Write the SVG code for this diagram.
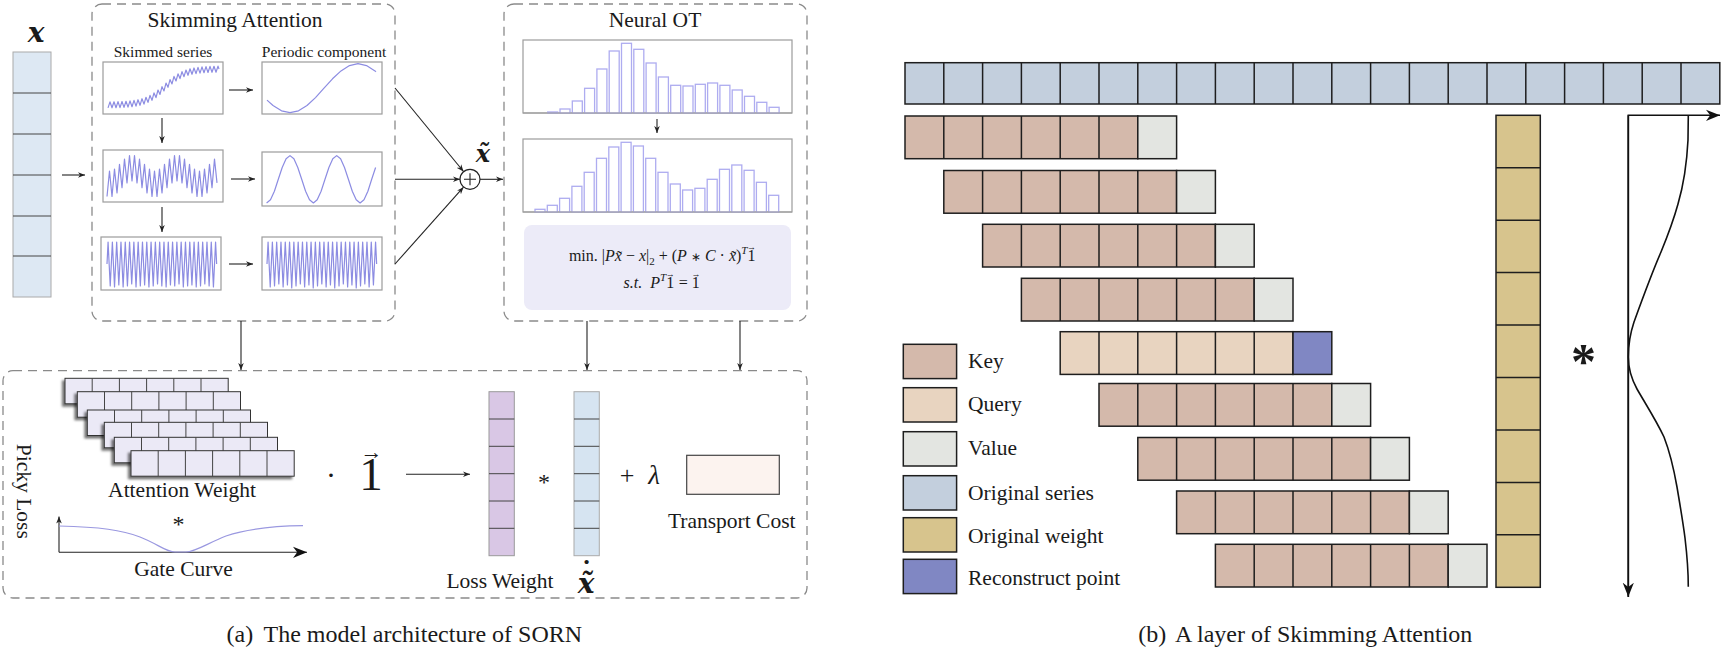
<svg xmlns="http://www.w3.org/2000/svg" width="1724" height="649" viewBox="0 0 1724 649">
<style>
text{font-family:"Liberation Serif","Times New Roman",serif;fill:#1a1a1a}
.t21{font-size:21.5px}
.t15{font-size:15.5px}
.cap{font-size:24px}
.mx{font-family:"DejaVu Serif",serif;font-style:italic;font-weight:bold}
.dash{fill:none;stroke:#8a8a8a;stroke-width:1.3;stroke-dasharray:9 6}
.panel{fill:#fff;stroke:#9c9c9c;stroke-width:1.2}
.wave{fill:none;stroke:#8c8ce2;stroke-width:1.2;stroke-linejoin:round}
.bar{fill:#fff;stroke:#aeacf0;stroke-width:1.3}
.ln{fill:none;stroke:#222;stroke-width:1.1}
.sep{fill:none;stroke:#444;stroke-width:1}
.cellb{stroke:#1e1e1e;stroke-width:1.5}
.sepb{fill:none;stroke:#1e1e1e;stroke-width:1.5}
.key{fill:#d4b9ab}.qry{fill:#e8d4c0}.val{fill:#e3e5e1}.ori{fill:#c3cfdd}.wgt{fill:#d7c48d}.rec{fill:#8087c3}
.att{fill:#ebe9f6;stroke:#333;stroke-width:1}
</style>
<defs>
<marker id="ah" viewBox="0 0 10 10" refX="10" refY="5" markerWidth="7" markerHeight="7" orient="auto" markerUnits="userSpaceOnUse"><path d="M0,1 L10,5 L0,9 L3,5 z" fill="#222"/></marker>
<marker id="ahb" viewBox="0 0 10 10" refX="10" refY="5" markerWidth="14" markerHeight="14" orient="auto" markerUnits="userSpaceOnUse"><path d="M0,1 L10,5 L0,9 L3,5 z" fill="#111"/></marker>
<filter id="sh" x="-10%" y="-20%" width="120%" height="150%"><feDropShadow dx="-2.5" dy="2.5" stdDeviation="1.2" flood-color="#000" flood-opacity="0.55"/></filter>
</defs>

<!-- ================= (a) ================= -->
<g id="input-x">
<text class="mx" x="36" y="41.5" font-size="28" text-anchor="middle">x</text>
<rect x="13" y="52" width="38" height="245" fill="#dde8f3" stroke="#aaa" stroke-width="1"/>
<path class="sep" stroke="#888" d="M13,93H51M13,134H51M13,175H51M13,216H51M13,256H51"/>
</g>

<g id="skimming-attention">
<rect class="dash" x="92" y="4" width="303" height="317" rx="10"/>
<text class="t21" x="235" y="26.7" text-anchor="middle">Skimming Attention</text>
<text class="t15" x="163" y="57" text-anchor="middle">Skimmed series</text>
<text class="t15" x="324" y="57" text-anchor="middle">Periodic component</text>
<rect class="panel" x="103" y="62" width="120" height="52"/>
<rect class="panel" x="262" y="62" width="120" height="52"/>
<rect class="panel" x="103" y="150" width="120" height="52"/>
<rect class="panel" x="262" y="152" width="120" height="54"/>
<rect class="panel" x="101" y="237" width="120" height="53"/>
<rect class="panel" x="262" y="237" width="120" height="53"/>
<polyline class="wave" points="108,107.9 110,101.85 112,107.8 114,101.75 116,107.7 118,101.65 120,107.6 122,101.5 124,107.4 126,101.25 128,107.1 130,100.9 132,106.7 134,100.4 136,106.1 138,99.7 140,105.3 142,98.7 144,104.1 146,97.25 148,102.4 150,95.35 152,100.3 154,92.95 156,97.6 158,90 160,94.4 162,86.65 164,90.9 166,83.1 168,87.3 170,79.6 172,83.9 174,76.45 176,81 178,73.8 180,78.6 182,71.65 184,76.7 186,70 188,75.3 190,68.8 192,74.3 194,67.95 196,73.6 198,67.35 200,73.1 202,66.9 204,72.7 206,66.6 208,72.5 210,66.4 212,72.3 214,66.25 216,72.2 218,66.15 219,69"/>
<polyline class="wave" points="267,100.1 273,105.5 281.5,110.8 290,112.7 298.5,110.8 307,105.5 315.5,97.6 324,88.2 332.5,78.8 341,70.9 349.5,65.6 358,63.7 366.5,65.6 375,70.9 376,71.7"/>
<polyline class="wave" points="107,196.5 109.5,171 112,196.5 114.5,169.1 117,193 119.5,164.4 122,187.6 124.5,159 127,182.9 129.5,155.5 132,181 134.5,155.5 137,182.9 139.5,159 142,187.6 144.5,164.4 147,193 149.5,169.1 152,196.5 154.5,171 157,196.5 159.5,169.1 162,193 164.5,164.4 167,187.6 169.5,159 172,182.9 174.5,155.5 177,181 179.5,155.5 182,182.9 184.5,159 187,187.6 189.5,164.4 192,193 194.5,169.1 197,196.5 199.5,171 202,196.5 204.5,169.1 207,193 209.5,164.4 212,187.6 214.5,159 217,182.9"/>
<polyline class="wave" points="266.6,203 270.5,199.8 274.4,191.2 278.3,179.3 282.2,167.5 286.1,158.8 290,155.6 293.9,158.8 297.8,167.5 301.7,179.3 305.6,191.2 309.5,199.8 313.4,203 317.2,199.8 321.1,191.2 325,179.3 328.9,167.5 332.8,158.8 336.7,155.6 340.6,158.8 344.5,167.5 348.4,179.3 352.3,191.2 356.2,199.8 360.1,203 364,199.8 367.9,191.2 371.7,179.3 375.6,167.5"/>
<path class="wave" d="M107,264 l1.075,-22 l2.15,44 l2.15,-44 l2.15,45 l2.15,-45 l2.15,43 l2.15,-43 l2.15,45 l2.15,-45 l2.15,44 l2.15,-44 l2.15,42 l2.15,-42 l2.15,45 l2.15,-45 l2.15,44 l2.15,-44 l2.15,43 l2.15,-43 l2.15,45 l2.15,-45 l2.15,44 l2.15,-44 l2.15,42 l2.15,-42 l2.15,44 l2.15,-44 l2.15,45 l2.15,-45 l2.15,43 l2.15,-43 l2.15,44 l2.15,-44 l2.15,42 l2.15,-42 l2.15,45 l2.15,-45 l2.15,44 l2.15,-44 l2.15,43 l2.15,-43 l2.15,45 l2.15,-45 l2.15,44 l2.15,-44 l2.15,42 l2.15,-42 l2.15,44 l2.15,-44 l2.15,45 l2.15,-45 l1.075,22"/>
<path class="wave" d="M267,264 l1.075,-22 l2.15,45 l2.15,-45 l2.15,44 l2.15,-44 l2.15,42 l2.15,-42 l2.15,45 l2.15,-45 l2.15,43 l2.15,-43 l2.15,46 l2.15,-46 l2.15,44 l2.15,-44 l2.15,42 l2.15,-42 l2.15,45 l2.15,-45 l2.15,43 l2.15,-43 l2.15,46 l2.15,-46 l2.15,44 l2.15,-44 l2.15,42 l2.15,-42 l2.15,45 l2.15,-45 l2.15,43 l2.15,-43 l2.15,46 l2.15,-46 l2.15,44 l2.15,-44 l2.15,42 l2.15,-42 l2.15,45 l2.15,-45 l2.15,43 l2.15,-43 l2.15,46 l2.15,-46 l2.15,44 l2.15,-44 l2.15,42 l2.15,-42 l2.15,45 l2.15,-45 l2.15,43 l2.15,-43 l1.075,22"/>
</g>

<g id="sum-node">
<circle cx="470" cy="179.3" r="10" fill="#fff" stroke="#222" stroke-width="1.2"/>
<path class="ln" d="M464,179.3H476M470,173.3V185.3"/>
<text class="mx" x="483" y="162" font-size="24" text-anchor="middle">x̃</text>
</g>

<g id="neural-ot">
<rect class="dash" x="504" y="4" width="303" height="317" rx="10"/>
<text class="t21" x="655" y="26.7" text-anchor="middle">Neural OT</text>
<rect class="panel" x="523" y="40" width="269" height="73"/>
<g>
<rect class="bar" x="547.7" y="112" width="10" height="1"/>
<rect class="bar" x="560" y="109" width="10" height="4"/>
<rect class="bar" x="572.3" y="101" width="10" height="12"/>
<rect class="bar" x="584.6" y="88.3" width="10" height="24.7"/>
<rect class="bar" x="596.9" y="69" width="10" height="44"/>
<rect class="bar" x="609.2" y="51" width="10" height="62"/>
<rect class="bar" x="621.5" y="43.3" width="10" height="69.7"/>
<rect class="bar" x="633.8" y="49.3" width="10" height="63.7"/>
<rect class="bar" x="646.1" y="63" width="10" height="50"/>
<rect class="bar" x="658.4" y="77" width="10" height="36"/>
<rect class="bar" x="670.7" y="85.3" width="10" height="27.7"/>
<rect class="bar" x="683" y="86" width="10" height="27"/>
<rect class="bar" x="695.3" y="84.3" width="10" height="28.7"/>
<rect class="bar" x="707.6" y="83" width="10" height="30"/>
<rect class="bar" x="719.9" y="85.3" width="10" height="27.7"/>
<rect class="bar" x="732.2" y="90" width="10" height="23"/>
<rect class="bar" x="744.5" y="96.3" width="10" height="16.7"/>
<rect class="bar" x="756.8" y="102.3" width="10" height="10.7"/>
<rect class="bar" x="769.1" y="107.3" width="10" height="5.7"/>
</g>
<path d="M523,113H792" stroke="#9c9c9c" stroke-width="1.2"/>
<rect class="panel" x="523" y="139" width="269" height="73"/>
<g>
<rect class="bar" x="535" y="209.3" width="10" height="2.7"/>
<rect class="bar" x="547.3" y="205.3" width="10" height="6.7"/>
<rect class="bar" x="559.6" y="198.3" width="10" height="13.7"/>
<rect class="bar" x="571.9" y="186.3" width="10" height="25.7"/>
<rect class="bar" x="584.2" y="172.3" width="10" height="39.7"/>
<rect class="bar" x="596.5" y="158.3" width="10" height="53.7"/>
<rect class="bar" x="608.8" y="147" width="10" height="65"/>
<rect class="bar" x="621.1" y="142.3" width="10" height="69.7"/>
<rect class="bar" x="633.4" y="146" width="10" height="66"/>
<rect class="bar" x="645.7" y="158.3" width="10" height="53.7"/>
<rect class="bar" x="658" y="172.3" width="10" height="39.7"/>
<rect class="bar" x="670.3" y="184" width="10" height="28"/>
<rect class="bar" x="682.6" y="190" width="10" height="22"/>
<rect class="bar" x="694.9" y="188.3" width="10" height="23.7"/>
<rect class="bar" x="707.2" y="179.3" width="10" height="32.7"/>
<rect class="bar" x="719.5" y="169.3" width="10" height="42.7"/>
<rect class="bar" x="731.8" y="165" width="10" height="47"/>
<rect class="bar" x="744.1" y="170.3" width="10" height="41.7"/>
<rect class="bar" x="756.4" y="182.3" width="10" height="29.7"/>
<rect class="bar" x="768.7" y="195.3" width="10" height="16.7"/>
</g>
<path d="M523,212H792" stroke="#9c9c9c" stroke-width="1.2"/>
<path class="ln" d="M657,119V133" marker-end="url(#ah)"/>
<rect x="524" y="225" width="267" height="85" rx="8" fill="#ecebf8"/>
<text x="662.5" y="261" font-size="16" text-anchor="middle" xml:space="preserve">min. |<tspan font-style="italic">P</tspan><tspan font-style="italic">x̃</tspan> − <tspan font-style="italic">x</tspan>|<tspan font-size="11" dy="4">2</tspan><tspan dy="-4"> + (</tspan><tspan font-style="italic">P</tspan> <tspan font-size="12">∗</tspan> <tspan font-style="italic">C</tspan> · <tspan font-style="italic">x̃</tspan>)<tspan font-size="11" font-style="italic" dy="-7">T</tspan><tspan dy="7">1</tspan><tspan font-size="9" dx="-8.4" dy="-11">→</tspan></text>
<text x="662" y="288.3" font-size="16" text-anchor="middle" xml:space="preserve"><tspan font-style="italic">s.t.</tspan>  <tspan font-style="italic">P</tspan><tspan font-size="11" font-style="italic" dy="-7">T</tspan><tspan dy="7">1</tspan><tspan font-size="9" dx="-8.4" dy="-11">→</tspan><tspan dy="11"> = 1</tspan><tspan font-size="9" dx="-8.4" dy="-11">→</tspan></text>
</g>

<g id="picky-loss">
<rect class="dash" x="3" y="370.7" width="804" height="227.3" rx="10"/>
<text class="t21" transform="translate(17,491.3) rotate(90)" text-anchor="middle">Picky Loss</text>
</g>

<g id="attention-weight">
<g filter="url(#sh)">
<rect class="att" x="65" y="378.3" width="163.2" height="25.5"/>
<path class="sep" stroke="#333" d="M92.2,378.3v25.5M119.4,378.3v25.5M146.6,378.3v25.5M173.8,378.3v25.5M201,378.3v25.5"/>
</g>
<g filter="url(#sh)">
<rect class="att" x="77.3" y="391.7" width="163.2" height="25.5"/>
<path class="sep" stroke="#333" d="M104.5,391.7v25.5M131.7,391.7v25.5M158.9,391.7v25.5M186.1,391.7v25.5M213.3,391.7v25.5"/>
</g>
<g filter="url(#sh)">
<rect class="att" x="87.3" y="410" width="163.2" height="25.5"/>
<path class="sep" stroke="#333" d="M114.5,410v25.5M141.7,410v25.5M168.9,410v25.5M196.1,410v25.5M223.3,410v25.5"/>
</g>
<g filter="url(#sh)">
<rect class="att" x="104.3" y="422.3" width="163.2" height="25.5"/>
<path class="sep" stroke="#333" d="M131.5,422.3v25.5M158.7,422.3v25.5M185.9,422.3v25.5M213.1,422.3v25.5M240.3,422.3v25.5"/>
</g>
<g filter="url(#sh)">
<rect class="att" x="114.3" y="437.3" width="163.2" height="25.5"/>
<path class="sep" stroke="#333" d="M141.5,437.3v25.5M168.7,437.3v25.5M195.9,437.3v25.5M223.1,437.3v25.5M250.3,437.3v25.5"/>
</g>
<g filter="url(#sh)">
<rect class="att" x="131" y="450.7" width="163.2" height="25.5"/>
<path class="sep" stroke="#333" d="M158.2,450.7v25.5M185.4,450.7v25.5M212.6,450.7v25.5M239.8,450.7v25.5M267,450.7v25.5"/>
</g>
<text class="t21" x="182" y="497" text-anchor="middle">Attention Weight</text>
</g>

<g id="gate-curve">
<text x="178.5" y="532" font-size="24" text-anchor="middle">*</text>
<path class="ln" d="M59,552.3V516.5" marker-end="url(#ah)"/>
<path class="ln" d="M59,552.3H307" marker-end="url(#ahb)"/>
<path fill="none" stroke="#9a98e0" stroke-width="1.2" d="M59,526 C100,527 122,530 140,537 C158,544 166,552 175,552 L186,552 C195,552 208,543 226,536 C250,528 280,526 303,525.7"/>
<text class="t21" x="183.5" y="576" text-anchor="middle">Gate Curve</text>
</g>

<g id="ones-vector">
<text x="331" y="485" font-size="30" text-anchor="middle">·</text>
<text x="371" y="490" font-size="47" text-anchor="middle">1</text>
<text x="371.5" y="459" font-size="22" text-anchor="middle">→</text>
</g>

<g id="loss-weight">
<rect x="489" y="391.7" width="25.3" height="164" fill="#d9c7e5" stroke="#999" stroke-width="1"/>
<path class="sep" stroke="#555" d="M489,419H514.3M489,446.3H514.3M489,473.7H514.3M489,501H514.3M489,528.3H514.3"/>
<text class="t21" x="500" y="588" text-anchor="middle">Loss Weight</text>
<text x="544" y="490" font-size="24" text-anchor="middle">*</text>
</g>

<g id="x-tilde-dot">
<rect x="574" y="391.7" width="25.3" height="164" fill="#d6e4f1" stroke="#aaa" stroke-width="1"/>
<path class="sep" stroke="#666" d="M574,419H599.3M574,446.3H599.3M574,473.7H599.3M574,501H599.3M574,528.3H599.3"/>
<text class="mx" x="586" y="593" font-size="28" text-anchor="middle">x̃</text>
<text x="586.5" y="570" font-size="26" font-weight="bold" text-anchor="middle">·</text>
</g>

<g id="transport-cost">
<text x="627" y="483.5" font-size="26" text-anchor="middle">+</text>
<text x="654" y="483.5" font-size="27" font-style="italic" text-anchor="middle">λ</text>
<rect x="686.7" y="455.3" width="92.6" height="39" fill="#fcf3ef" stroke="#444" stroke-width="1.2"/>
<text class="t21" x="731.7" y="528.3" text-anchor="middle">Transport Cost</text>
</g>

<g id="connectors-a">
<path class="ln" d="M62,175H85" marker-end="url(#ah)"/>
<path class="ln" d="M229,90H253" marker-end="url(#ah)"/>
<path class="ln" d="M231,179H255" marker-end="url(#ah)"/>
<path class="ln" d="M229,264H253" marker-end="url(#ah)"/>
<path class="ln" d="M162,118V143" marker-end="url(#ah)"/>
<path class="ln" d="M162,207V232" marker-end="url(#ah)"/>
<path class="ln" d="M395,88L463.5,171.5" marker-end="url(#ah)"/>
<path class="ln" d="M395,179.3H460" marker-end="url(#ah)"/>
<path class="ln" d="M395,264L463.5,187.2" marker-end="url(#ah)"/>
<path class="ln" d="M480,179.3H503" marker-end="url(#ah)"/>
<path class="ln" d="M241,321V370" marker-end="url(#ah)"/>
<path class="ln" d="M587,321V370" marker-end="url(#ah)"/>
<path class="ln" d="M740,321V370" marker-end="url(#ah)"/>
<path class="ln" d="M406,474.3H470" marker-end="url(#ah)"/>
</g>

<text class="cap" x="226.5" y="641.7">(a)</text>
<text class="cap" x="263.5" y="641.7">The model architecture of SORN</text>

<!-- ================= (b) ================= -->
<g id="original-series">
<rect class="ori cellb" x="905" y="62.7" width="814.8" height="41.3"/>
<path class="sepb" d="M943.8,62.7v41.3M982.6,62.7v41.3M1021.4,62.7v41.3M1060.2,62.7v41.3M1099,62.7v41.3M1137.8,62.7v41.3M1176.6,62.7v41.3M1215.4,62.7v41.3M1254.2,62.7v41.3M1293,62.7v41.3M1331.8,62.7v41.3M1370.6,62.7v41.3M1409.4,62.7v41.3M1448.2,62.7v41.3M1487,62.7v41.3M1525.8,62.7v41.3M1564.6,62.7v41.3M1603.4,62.7v41.3M1642.2,62.7v41.3M1681,62.7v41.3"/>
</g>

<g id="row-1">
<rect class="key cellb" x="905" y="116" width="232.8" height="42.7"/>
<rect class="val cellb" x="1137.8" y="116" width="38.8" height="42.7"/>
<path class="sepb" d="M943.8,116v42.7M982.6,116v42.7M1021.4,116v42.7M1060.2,116v42.7M1099,116v42.7"/>
</g>
<g id="row-2">
<rect class="key cellb" x="943.8" y="170.5" width="232.8" height="42.7"/>
<rect class="val cellb" x="1176.6" y="170.5" width="38.8" height="42.7"/>
<path class="sepb" d="M982.6,170.5v42.7M1021.4,170.5v42.7M1060.2,170.5v42.7M1099,170.5v42.7M1137.8,170.5v42.7"/>
</g>
<g id="row-3">
<rect class="key cellb" x="982.6" y="224.3" width="232.8" height="42.7"/>
<rect class="val cellb" x="1215.4" y="224.3" width="38.8" height="42.7"/>
<path class="sepb" d="M1021.4,224.3v42.7M1060.2,224.3v42.7M1099,224.3v42.7M1137.8,224.3v42.7M1176.6,224.3v42.7"/>
</g>
<g id="row-4">
<rect class="key cellb" x="1021.4" y="278.3" width="232.8" height="42.7"/>
<rect class="val cellb" x="1254.2" y="278.3" width="38.8" height="42.7"/>
<path class="sepb" d="M1060.2,278.3v42.7M1099,278.3v42.7M1137.8,278.3v42.7M1176.6,278.3v42.7M1215.4,278.3v42.7"/>
</g>
<g id="row-5-query">
<rect class="qry cellb" x="1060.2" y="331.7" width="232.8" height="42.7"/>
<rect class="rec cellb" x="1293" y="331.7" width="38.8" height="42.7"/>
<path class="sepb" d="M1099,331.7v42.7M1137.8,331.7v42.7M1176.6,331.7v42.7M1215.4,331.7v42.7M1254.2,331.7v42.7"/>
</g>
<g id="row-6">
<rect class="key cellb" x="1099" y="383.5" width="232.8" height="42.7"/>
<rect class="val cellb" x="1331.8" y="383.5" width="38.8" height="42.7"/>
<path class="sepb" d="M1137.8,383.5v42.7M1176.6,383.5v42.7M1215.4,383.5v42.7M1254.2,383.5v42.7M1293,383.5v42.7"/>
</g>
<g id="row-7">
<rect class="key cellb" x="1137.8" y="437.5" width="232.8" height="42.7"/>
<rect class="val cellb" x="1370.6" y="437.5" width="38.8" height="42.7"/>
<path class="sepb" d="M1176.6,437.5v42.7M1215.4,437.5v42.7M1254.2,437.5v42.7M1293,437.5v42.7M1331.8,437.5v42.7"/>
</g>
<g id="row-8">
<rect class="key cellb" x="1176.6" y="491" width="232.8" height="42.7"/>
<rect class="val cellb" x="1409.4" y="491" width="38.8" height="42.7"/>
<path class="sepb" d="M1215.4,491v42.7M1254.2,491v42.7M1293,491v42.7M1331.8,491v42.7M1370.6,491v42.7"/>
</g>
<g id="row-9">
<rect class="key cellb" x="1215.4" y="544.3" width="232.8" height="42.7"/>
<rect class="val cellb" x="1448.2" y="544.3" width="38.8" height="42.7"/>
<path class="sepb" d="M1254.2,544.3v42.7M1293,544.3v42.7M1331.8,544.3v42.7M1370.6,544.3v42.7M1409.4,544.3v42.7"/>
</g>

<g id="original-weight">
<rect class="wgt cellb" x="1496" y="115.3" width="44.3" height="472"/>
<path class="sepb" d="M1496,167.7h44.3M1496,220.2h44.3M1496,272.6h44.3M1496,325.1h44.3M1496,377.5h44.3M1496,430h44.3M1496,482.4h44.3M1496,534.8h44.3"/>
</g>

<g id="weight-curve">
<text x="1583.5" y="378" font-size="50" font-weight="bold" text-anchor="middle">*</text>
<path fill="none" stroke="#111" stroke-width="1.6" d="M1688.3,115.3 L1688,140 C1687,160 1685,180 1678,204 C1673,222 1668,235 1661,252 C1651,275 1642,300 1634,322 C1630,334 1628.3,345 1628.3,357 C1628.3,368 1631,378 1637,389 C1645,403 1656,420 1664,437 C1671,455 1674,470 1677,487 C1680,505 1683,522 1685,538 C1687,555 1688.3,570 1688.3,586.7"/>
</g>

<g id="connectors-b">
<path fill="none" stroke="#111" stroke-width="1.6" d="M1628.3,597V115.3H1720" marker-end="url(#ahb)"/>
<path fill="none" stroke="#111" stroke-width="1.6" d="M1628.3,115.3V596.7" marker-end="url(#ahb)"/>
</g>

<g id="legend">
<rect class="key cellb" x="903.3" y="344.3" width="53.3" height="34.3"/>
<rect class="qry cellb" x="903.3" y="387.7" width="53.3" height="34.3"/>
<rect class="val cellb" x="903.3" y="431.7" width="53.3" height="34.3"/>
<rect class="ori cellb" x="903.3" y="475.7" width="53.3" height="34.3"/>
<rect class="wgt cellb" x="903.3" y="517.7" width="53.3" height="34.3"/>
<rect class="rec cellb" x="903.3" y="559.3" width="53.3" height="34.3"/>
<text class="t21" x="968" y="368.3">Key</text>
<text class="t21" x="968" y="410.7">Query</text>
<text class="t21" x="968" y="455">Value</text>
<text class="t21" x="968" y="500">Original series</text>
<text class="t21" x="968" y="543.3">Original weight</text>
<text class="t21" x="968" y="585">Reconstruct point</text>
</g>

<text class="cap" x="1138.3" y="641.7">(b)</text>
<text class="cap" x="1175" y="641.7">A layer of Skimming Attention</text>
</svg>
